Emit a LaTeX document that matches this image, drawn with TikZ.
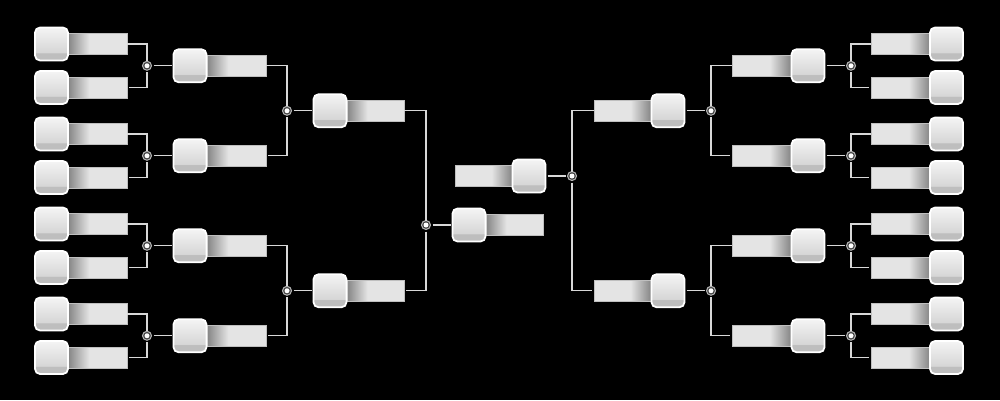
\documentclass[tikz,border=0pt]{standalone}
\definecolor{sqtop}{HTML}{F4F4F4}
\definecolor{sqmid}{HTML}{D6D6D6}
\definecolor{sqband}{HTML}{BEBEBE}
\definecolor{bardark}{HTML}{858585}
\definecolor{barlight}{HTML}{E4E4E4}
\definecolor{linec}{HTML}{D8D8D8}
\pgfdeclareverticalshading{sqshade}{100bp}{color(0bp)=(sqband); color(25bp)=(sqband); color(36bp)=(sqband); color(37bp)=(sqmid); color(75bp)=(sqtop); color(100bp)=(sqtop)}
\pgfdeclarehorizontalshading{barL}{100bp}{color(0bp)=(bardark); color(25bp)=(bardark); color(43bp)=(barlight); color(100bp)=(barlight)}
\pgfdeclarehorizontalshading{barR}{100bp}{color(0bp)=(barlight); color(57bp)=(barlight); color(75bp)=(bardark); color(100bp)=(bardark)}
\begin{document}
\begin{tikzpicture}[x=0.02cm,y=-0.02cm,
  sq/.style={rectangle,rounded corners=0.1cm,draw=white,line width=1pt,shading=sqshade,minimum width=0.66cm,minimum height=0.66cm,inner sep=0pt,outer sep=0pt},
  barl/.style={rectangle,shading=barL,draw=black!25,line width=0.3pt,minimum width=1.18cm,minimum height=0.42cm,inner sep=0pt,outer sep=0pt},
  barr/.style={rectangle,shading=barR,draw=black!25,line width=0.3pt,minimum width=1.18cm,minimum height=0.42cm,inner sep=0pt,outer sep=0pt},
  dot/.style={circle,fill=black!75,draw=black!30,line width=0.6pt,minimum size=0.18cm,inner sep=0pt,outer sep=0pt,
    path picture={\fill[white] (path picture bounding box.center) circle (0.05cm);}},
  conn/.style={draw=linec,line width=0.8pt,shorten <=0.04cm,shorten >=0.04cm}]
\fill[black] (0,0) rectangle (1000,400);
\useasboundingbox (0,0) rectangle (1000,400);
% ---------- left side ----------
\foreach \i/\y in {1/44,2/87.5,3/134,4/177.5,5/224,6/267.5,7/314,8/357.5}{
  \node[barl] (lba\i) at (97.5,\y) {};
  \node[sq] (lsa\i) at (51.5,\y) {};
  \node[barr] (rba\i) at (900.5,\y) {};
  \node[sq] (rsa\i) at (946.5,\y) {};
}
\foreach \i/\y in {1/65.75,2/155.75,3/245.75,4/335.75}{
  \node[barl] (lbb\i) at (236.5,\y) {};
  \node[sq] (lsb\i) at (190,\y) {};
  \node[dot] (lda\i) at (147,\y) {};
  \node[barr] (rbb\i) at (761.5,\y) {};
  \node[sq] (rsb\i) at (808,\y) {};
  \node[dot] (rda\i) at (851,\y) {};
}
\foreach \i/\y in {1/110.75,2/290.75}{
  \node[barl,minimum width=1.14cm] (lbc\i) at (375.5,\y) {};
  \node[sq] (lsc\i) at (330,\y) {};
  \node[dot] (ldb\i) at (287,\y) {};
  \node[barr,minimum width=1.14cm] (rbc\i) at (622.5,\y) {};
  \node[sq] (rsc\i) at (668,\y) {};
  \node[dot] (rdb\i) at (711,\y) {};
}
% finals
\node[barl,minimum width=1.14cm] (lbf) at (514.5,225) {};
\node[sq] (lsf) at (469,225) {};
\node[dot] (ldf) at (426,225) {};
\node[barr,minimum width=1.14cm] (rbf) at (483.5,176) {};
\node[sq] (rsf) at (529,176) {};
\node[dot] (rdf) at (572,176) {};
% ---------- connectors ----------
\foreach \i/\a/\b in {1/1/2,2/3/4,3/5/6,4/7/8}{
  \draw[conn] (lba\a.east) -| (lda\i) |- (lba\b.east);
  \draw[conn] (lda\i) -- (lsb\i.west);
  \draw[conn] (rba\a.west) -| (rda\i) |- (rba\b.west);
  \draw[conn] (rsb\i.east) -- (rda\i);
}
\foreach \i/\a/\b in {1/1/2,2/3/4}{
  \draw[conn] (lbb\a.east) -| (ldb\i) |- (lbb\b.east);
  \draw[conn] (ldb\i) -- (lsc\i.west);
  \draw[conn] (rbb\a.west) -| (rdb\i) |- (rbb\b.west);
  \draw[conn] (rsc\i.east) -- (rdb\i);
}
\draw[conn] (lbc1.east) -| (ldf) |- (lbc2.east);
\draw[conn] (ldf) -- (lsf.west);
\draw[conn] (rbc1.west) -| (rdf) |- (rbc2.west);
\draw[conn] (rsf.east) -- (rdf);
\end{tikzpicture}
\end{document}
